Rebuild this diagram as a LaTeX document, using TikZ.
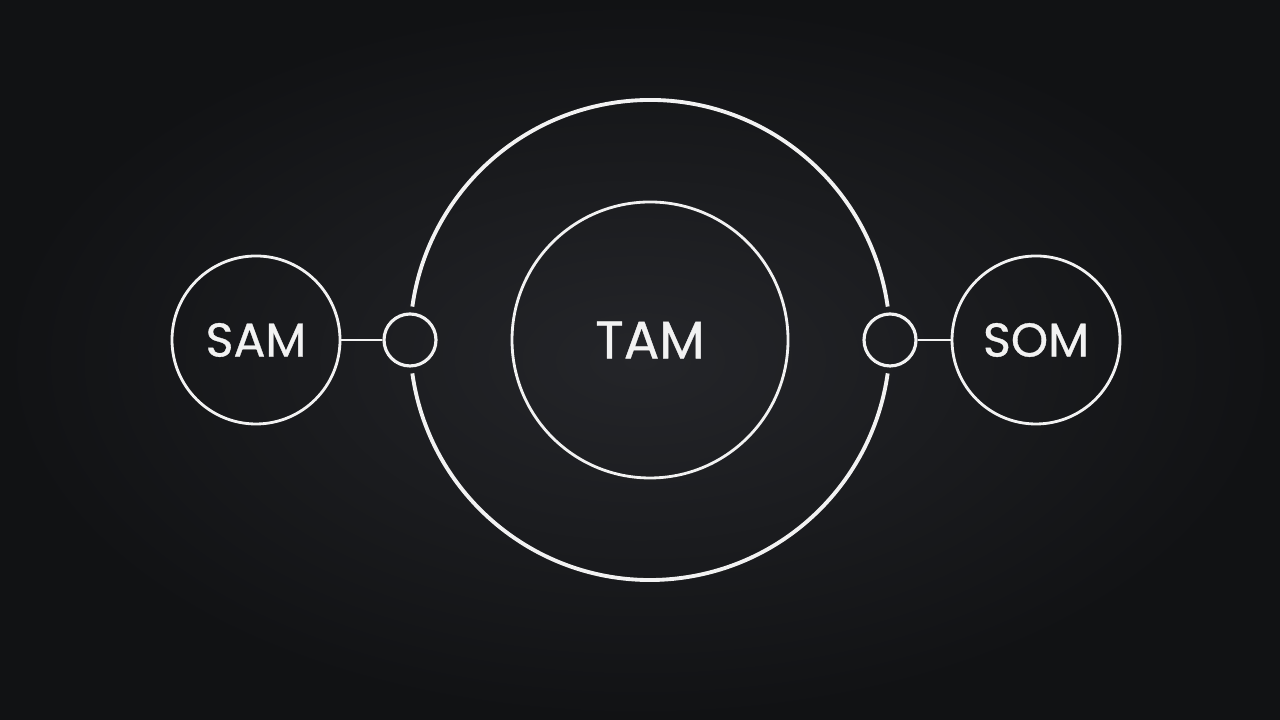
\documentclass[tikz,border=0pt]{standalone}
\usepackage{fontspec}
\setmainfont{Poppins}
\newfontfamily\labelfont[FakeBold=0.7]{Poppins}
\usepackage{tikz}
\usetikzlibrary{positioning, calc}
\definecolor{bgcenter}{RGB}{36,37,41}
\definecolor{bgedge}{RGB}{17,18,20}
\definecolor{lineclr}{RGB}{242,242,242}

\tikzset{
	ring/.style={draw=lineclr, line width=1.1pt},
	bubble/.style={circle, draw=lineclr, line width=0.8pt, inner sep=0pt, text=lineclr, font=\labelfont\fontsize{13.5}{16}\selectfont},
	port/.style={circle, draw=lineclr, line width=0.9pt, inner sep=0pt, minimum size=0.52cm},
	link/.style={draw=lineclr, line width=0.7pt}
}

\begin{document}
\begin{tikzpicture}
		\pgfmathsetmacro{\outerr}{2.40}
		\pgfmathsetmacro{\gapang}{8}
		% background
		\shade[inner color=bgcenter, outer color=bgedge] (0,0) rectangle (12.8,7.2);
		\useasboundingbox (0,0) rectangle (12.8,7.2);
		
		% middle
		\node[bubble, minimum size=2.76cm, font=\labelfont\fontsize{15}{18}\selectfont] (tam) at (6.5,3.8) {TAM};
		\draw[ring] ($(tam.center)+(\gapang:\outerr)$) arc (\gapang:180-\gapang:\outerr);
		\draw[ring] ($(tam.center)+(180+\gapang:\outerr)$) arc (180+\gapang:360-\gapang:\outerr);
		
		% ports on the outer ring
		\node[port] (leftport) at ($(tam.center)+(-\outerr,0)$) {};
		\node[port] (rightport) at ($(tam.center)+(\outerr,0)$) {};
		
		% side circles
		\node[bubble, minimum size=1.68cm] (sam) at (2.56,3.8) {SAM};
		\node[bubble, minimum size=1.68cm] (som) at (10.36,3.8) {SOM};
		
		\draw[link] (sam.east) -- (leftport.west);
		\draw[link] (rightport.east) -- (som.west);
\end{tikzpicture}
\end{document}
